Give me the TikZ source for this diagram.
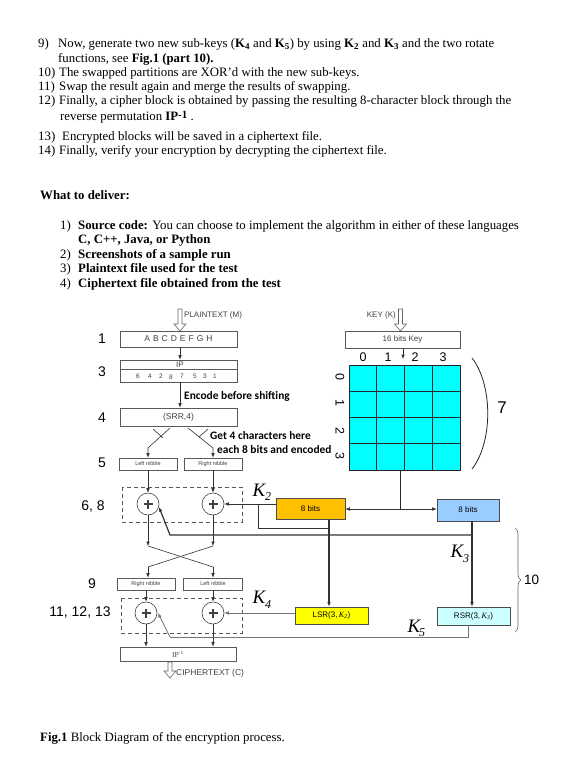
\documentclass[tikz,border=0pt]{standalone}
\usepackage{fontspec}
\setmainfont{Liberation Serif}
\setsansfont{Liberation Sans}
\newfontfamily\calib{Carlito}
\usetikzlibrary{arrows.meta,decorations.pathreplacing,calc}
\definecolor{yel8}{RGB}{255,192,0}
\definecolor{blu8}{RGB}{153,204,255}
\definecolor{lsrc}{RGB}{255,255,0}
\definecolor{rsrc}{RGB}{204,255,255}
\definecolor{gridc}{RGB}{0,255,255}
\tikzset{
  txt/.style={inner sep=0,anchor=base west,font=\fontsize{12.8}{14}\selectfont},
  lbl/.style={inner sep=0,font=\sffamily\fontsize{14}{14}\selectfont},
  box/.style={draw=black!65,line width=0.6pt,inner sep=0,text=black!75},
  small/.style={font=\sffamily\fontsize{8}{8}\selectfont},
  calb/.style={inner sep=0,anchor=base west,font=\calib\bfseries\fontsize{11.4}{11.4}\selectfont},
  arr/.style={-{Latex[length=4.5pt,width=3.6pt]},line width=0.6pt,black!80},
  thk/.style={line width=1.2pt},
  gline/.style={black!55},
  kl/.style={inner sep=0,font=\fontsize{19}{19}\selectfont\itshape},
  ks/.style={inner sep=0,font=\fontsize{12}{12}\selectfont\itshape},
  xor/.style={circle,draw=black!75,line width=0.6pt,minimum size=22pt,inner sep=0,
    path picture={\draw[line width=1.4pt] ($(path picture bounding box.center)+(-4.5pt,0)$) -- ++(9pt,0);
                  \draw[line width=1.4pt] ($(path picture bounding box.center)+(0,-4.5pt)$) -- ++(0,9pt);}},
  dbox/.style={draw=black!65,line width=0.6pt,dash pattern=on 4pt off 3pt},
  hollow/.style={draw=black!60,fill=white,line width=0.6pt},
}
\begin{document}
\begin{tikzpicture}[x=1pt,y=-1pt]
\useasboundingbox (0,0) rectangle (571,765);
\fill[white] (0,0) rectangle (571,765);

% ---------- top text ----------
\node[txt] (n9) at (38,48) {9)};
\node[txt] (t9) at (58,48) {Now, generate two new sub-keys (\textbf{K\textsubscript{4}} and \textbf{K\textsubscript{5}}) by using \textbf{K\textsubscript{2}} and \textbf{K\textsubscript{3}} and the two rotate};
\node[txt] (t9b) at (58,63) {functions, see \textbf{Fig.1 (part 10).}};
\node[txt] (n10) at (38,77) {10)};
\node[txt] (t10) at (59,77) {The swapped partitions are XOR'd with the new sub-keys.};
\node[txt] (n11) at (38,91) {11)};
\node[txt] (t11) at (59,91) {Swap the result again and merge the results of swapping.};
\node[txt] (n12) at (38,105) {12)};
\node[txt] (t12) at (59,105) {Finally, a cipher block is obtained by passing the resulting 8-character block through the};
\node[txt] (t12b) at (60,121) {reverse permutation \textbf{IP\raisebox{0.5ex}{\fontsize{11}{11}\selectfont -1}} .};
\node[txt] (n13) at (38,140) {13)};
\node[txt] (t13) at (62,140) {Encrypted blocks will be saved in a ciphertext file.};
\node[txt] (n14) at (38,154) {14)};
\node[txt] (t14) at (59,154) {Finally, verify your encryption by decrypting the ciphertext file.};

\node[txt] (wd) at (40,199) {\textbf{What to deliver:}};
\node[txt] (d1) at (60,229) {1)};
\node[txt] (d1t) at (78,229) {\textbf{Source code:} You can choose to implement the algorithm in either of these languages};
\node[txt] (d1b) at (78,243) {\textbf{C, C++, Java, or Python}};
\node[txt] (d2) at (60,258) {2)};
\node[txt] (d2t) at (78,258) {\textbf{Screenshots of a sample run}};
\node[txt] (d3) at (60,272) {3)};
\node[txt] (d3t) at (78,272) {\textbf{Plaintext file used for the test}};
\node[txt] (d4) at (60,287) {4)};
\node[txt] (d4t) at (78,287) {\textbf{Ciphertext file obtained from the test}};

\node[txt] (cap) at (40,741) {\textbf{Fig.1} Block Diagram of the encryption process.};

% ---------- left column ----------
\draw[hollow] (178,309) -- (182,309) -- (182,324) -- (186,324) -- (180,331) -- (174,324) -- (178,324) -- cycle;
\node[small,inner sep=0,anchor=west,text=black!75] (pt) at (184,315) {PLAINTEXT (M)};

\node[box,minimum width=117pt,minimum height=16pt] (abc) at (178.5,339)
  {\sffamily\fontsize{8.5}{8.5}\selectfont A\kern3pt B\kern3pt C\kern3pt D\kern3pt E\kern3pt F\kern3pt G\kern3pt H};
\node[box,minimum width=117pt,minimum height=22pt] (ip) at (178.5,371) {};
\draw[black!65,line width=0.6pt] (120,369) -- (237,369);
\node[inner sep=0,small,text=black!75] (iplab) at (180,364.5) {IP};
\foreach \d/\xx/\yy in {6/138/376,4/150/376,2/161/376,8/171/377.5,7/182/376,5/195/376,3/205/376,1/215/376}
  \node[inner sep=0,font=\sffamily\fontsize{6.5}{6.5}\selectfont,text=black!75] at (\xx,\yy) {\d};
\node[box,minimum width=117pt,minimum height=18pt] (srr) at (178.5,417) {\sffamily\fontsize{8.5}{8.5}\selectfont (SRR,4)};

\node[lbl] (l1) at (102,339) {1};
\node[lbl] (l3) at (102,372) {3};
\node[lbl] (l4) at (102,418) {4};
\node[lbl] (l5) at (102,463) {5};
\node[lbl] (l68) at (93,507) {6, 8};
\node[lbl] (l9) at (92,584) {9};
\node[lbl] (l11) at (80,613) {11, 12, 13};

\draw[arr] (abc.south -| 180,0) -- (ip.north -| 180,0);
\draw[arr] (ip.south -| 180,0) -- (srr.north -| 180,0);
\node[calb] (enc) at (184,399) {Encode before shifting};

\node[box,minimum width=58pt,minimum height=12pt] (ln1) at (148,464) {\sffamily\fontsize{5.5}{5.5}\selectfont Left nibble};
\node[box,minimum width=58pt,minimum height=12pt] (rn1) at (213,464) {\sffamily\fontsize{5.5}{5.5}\selectfont Right nibble};

\coordinate (cl1) at (170,428); \coordinate (cl2) at (148,448);
\coordinate (cr1) at (188,428); \coordinate (cr2) at (213,448);
\draw[black!80,line width=0.6pt] (153,429) -- (163,438);
\draw[black!80,line width=0.6pt] (208,429) -- (199,437);
\draw[arr] (cl1) -- (cl2) -- (ln1.north -| cl2);
\draw[arr] (cr1) -- (cr2) -- (rn1.north -| cr2);
\node[calb] (get1) at (210,439) {Get 4 characters here};
\node[calb] (get2) at (217,453) {each 8 bits and encoded};

% first XOR stage
\draw[dbox] (122,487) rectangle (242,522);
\node[xor] (xl1) at (148,504) {};
\node[xor] (xr1) at (213,504) {};
\draw[arr] (ln1.south) -- (xl1.north);
\draw[arr] (rn1.south) -- (xr1.north);

\node[kl] (k2) at (259,490) {K};
\node[ks] (k2s) at (268,497) {2};

% swap
\coordinate (s1) at (148,546); \coordinate (s2) at (213,546);
\coordinate (s3) at (148,567); \coordinate (s4) at (213,567);
\draw[arr] (xl1.south) -- (s1);
\draw[arr] (xr1.south) -- (s2);
\draw[black!80,line width=0.6pt] (s1) -- (s4);
\draw[black!80,line width=0.6pt] (s2) -- (s3);

\node[box,minimum width=58pt,minimum height=12pt] (ln2) at (146,584) {\sffamily\fontsize{5.5}{5.5}\selectfont Right nibble};
\node[box,minimum width=59pt,minimum height=12pt] (rn2) at (213,584) {\sffamily\fontsize{5.5}{5.5}\selectfont Left nibble};
\draw[arr] (s3) -- (ln2.north -| s3);
\draw[arr] (s4) -- (rn2.north -| s4);

% second XOR stage
\draw[dbox] (121,598) rectangle (242,633);
\node[xor] (xl2) at (146,613) {};
\node[xor] (xr2) at (213,613) {};
\draw[arr] (ln2.south) -- (xl2.north);
\draw[arr] (rn2.south) -- (xr2.north);
\node[kl] (k4) at (259,597) {K};
\node[ks] (k4s) at (268,605) {4};

\node[box,minimum width=116pt,minimum height=14pt] (ipi) at (178,654) {\rmfamily\fontsize{7.5}{7.5}\selectfont IP\textsuperscript{-1}};
\draw[arr] (xl2.south) -- (ipi.north -| xl2);
\draw[arr] (xr2.south) -- (ipi.north -| xr2);
\draw[hollow] (168,662) -- (172,662) -- (172,671) -- (176,671) -- (170,678) -- (164,671) -- (168,671) -- cycle;
\node[inner sep=0,anchor=west,text=black!75,font=\sffamily\fontsize{8.5}{8.5}\selectfont] (ct) at (176,673) {CIPHERTEXT (C)};

% ---------- key side ----------
\draw[hollow] (398.5,309) -- (402.5,309) -- (402.5,324) -- (406.5,324) -- (400.5,331) -- (394.5,324) -- (398.5,324) -- cycle;
\node[small,inner sep=0,anchor=east,text=black!75] (kk) at (396,315) {KEY (K)};
\node[box,minimum width=115pt,minimum height=17pt] (key) at (402.5,339.5) {\sffamily\fontsize{8}{8}\selectfont 16 bits Key};
\coordinate (kend) at (403,359);
\draw[arr] (key.south -| kend) -- (kend);

\node[draw=black!85,fill=gridc,line width=0.8pt,minimum width=111pt,minimum height=105pt,inner sep=0] (grid) at (404.5,417.5) {};
\foreach \i in {1,2,3} {
  \draw[black!85,line width=0.7pt] ({349+27.75*\i},365) -- ({349+27.75*\i},470);
  \draw[black!85,line width=0.7pt] (349,{365+26.25*\i}) -- (460,{365+26.25*\i});
}
\foreach \d/\xx in {0/363,1/388,2/415,3/443}
  \node[inner sep=0,font=\sffamily\fontsize{12.5}{12.5}\selectfont] at (\xx,357) {\d};
\foreach \d/\yy in {0/377,1/403,2/431,3/456}
  \node[inner sep=0,rotate=-90,font=\sffamily\fontsize{12.5}{12.5}\selectfont] at (340,\yy) {\d};

\draw[black!85,line width=0.8pt] (472,358) .. controls (493,385) and (493,442) .. (472,469);
\node[inner sep=0,font=\sffamily\fontsize{17}{17}\selectfont] (seven) at (502,408) {7};

\node[box,fill=yel8,draw=black!70,minimum width=69pt,minimum height=21pt,text=black] (y8) at (310.5,509) {\sffamily\fontsize{8}{8}\selectfont 8 bits};
\node[box,fill=blu8,draw=black!70,minimum width=62pt,minimum height=22pt,text=black] (b8) at (468,510) {\sffamily\fontsize{8}{8}\selectfont 8 bits};

\coordinate (gs) at (400,509);
\draw[black!85,line width=0.7pt] (grid.south -| gs) -- (gs);
\draw[arr] (gs) -- (y8.east |- gs);
\draw[arr] (gs) -- (b8.west |- gs);

% K2 to right circle
\draw[arr] (y8.west |- xr1) -- (xr1.east);
\coordinate (j1) at (258,504); \coordinate (j2) at (258,528); \coordinate (j3) at (329,528);
\draw[black!80,line width=0.6pt] (j1) -- (j2) -- (j3);

\node[box,fill=lsrc,draw=black!70,minimum width=73pt,minimum height=17pt,text=black] (lsr) at (331.5,615.5) {\sffamily\fontsize{8}{8}\selectfont LSR(3,\,\rmfamily\itshape K\textsubscript{2}\sffamily\upshape)};
\node[box,fill=rsrc,draw=black!70,minimum width=73pt,minimum height=18pt,text=black] (rsr) at (473.5,616) {\sffamily\fontsize{8}{8}\selectfont RSR(3,\,\rmfamily\itshape K\textsubscript{3}\sffamily\upshape)};

\coordinate (kx2) at (329,0);
\draw[arr,thk] (y8.south -| kx2) -- (lsr.north -| kx2);
\coordinate (kx3) at (472,0);
\draw[arr,thk] (b8.south -| kx3) -- (rsr.north -| kx3);

% K3 to left circle
\coordinate (h1) at (472,535); \coordinate (h2) at (170,535); \coordinate (t1) at (159,507);
\draw[arr,thk] (h1) -- (h2) -- (t1);
\node[kl] (k3) at (457,551) {K};
\node[ks] (k3s) at (466,559) {3};

% K4 (LSR) to right circle 2
\draw[arr,gline] (lsr.west |- xr2) -- (xr2.east);
% K5 (RSR) to left circle 2
\coordinate (q1) at (468,637); \coordinate (q2) at (170,637); \coordinate (t2) at (158,613);
\draw[gline,line width=0.8pt] (rsr.south -| q1) -- (q1) -- (q2);
\draw[arr,gline,line width=0.8pt] (q2) -- (t2);
\node[kl] (k5) at (414,626) {K};
\node[ks] (k5s) at (422,633) {5};

% brace 10
\draw[black!60,line width=0.6pt,decorate,decoration={brace,amplitude=6pt}] (515,528) -- (515,632);
\node[inner sep=0,anchor=west,font=\sffamily\fontsize{13.5}{13.5}\selectfont] (ten) at (524,580) {10};
\end{tikzpicture}
\end{document}
